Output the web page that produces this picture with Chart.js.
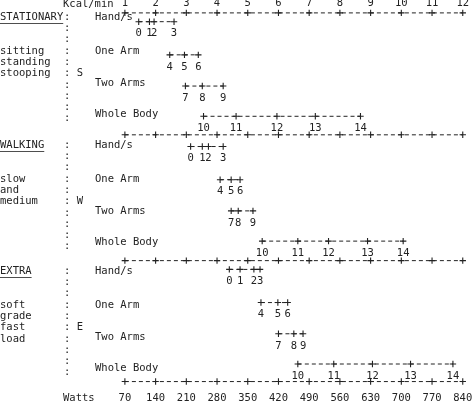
<!DOCTYPE html>
<html><head><meta charset="utf-8">
<script src="https://cdn.jsdelivr.net/npm/chart.js@4/dist/chart.umd.min.js"></script>
<style>html,body{margin:0;padding:0;background:#fff}canvas{display:block}</style>
</head><body><canvas id="c" width="474" height="413"></canvas>
<script>
// kcal/min scale ticks and watts labels (70 W per kcal/min)
const kcalTicks = [1,2,3,4,5,6,7,8,9,10,11,12];
const wattLabels = ["70","140","210","280","350","420","490","560","630","700","770","840"];
const sections = ["STATIONARY","WALKING","EXTRA"];
const subGroups = ["Hand/s","One Arm","Two Arms","Whole Body"];
const sectionLetters = ["S","W","E"];
const sectionDesc = [["sitting","standing","stooping"],["slow","and","medium"],["soft","grade","fast","load"]];
// element numbers per group
const handNums = ["0","1","2","3"], oneArmNums=["4","5","6"], twoArmNums=["7","8","9"], bodyNums=["10","11","12","13","14"];
// kcal/min values
const statHand = [1.45,1.8,1.95,2.6];
const statOne = [2.46,2.94,3.39];
const statTwo = [2.97,3.52,4.2];
const statBody = [3.56,4.62,5.95,7.2,8.67];
const walkHand = [3.14,3.52,3.72,4.2];
const walkOne = [4.1,4.46,4.75];
const walkTwo = [4.46,4.69,5.17];
const walkBody = [5.47,6.63,7.63,8.9,10.06];
const extHand = [4.4,4.75,5.2,5.4];
const extOne = [5.43,5.98,6.3];
const extTwo = [6.0,6.5,6.8];
const extBody = [6.63,7.8,9.06,10.3,11.68];

// row positions (layout)
const sectionTop = [17,145,271];
const groupOff = [0,34,66,97];
const axisRows = [8,133,262,386];

const groups = [
 [statHand,statOne,statTwo,statBody],
 [walkHand,walkOne,walkTwo,walkBody],
 [extHand,extOne,extTwo,extBody]];
const numSets=[handNums,oneArmNums,twoArmNums,bodyNums];

const datasets=[];
groups.forEach((g,si)=>g.forEach((vals,gi)=>{
  const y=sectionTop[si]+groupOff[gi];
  datasets.push({data:vals.map(v=>({x:v,y:y})),labelsText:numSets[gi],borderColor:'#222',borderWidth:1,borderDash:[4,3],
    pointStyle:'cross',pointRadius:3.2,pointBorderWidth:1.1,pointBorderColor:'#222',showLine:true,fill:false});
}));
axisRows.forEach(y=>{
  datasets.push({data:kcalTicks.map(v=>({x:v,y:y})),axisRow:true,borderColor:'#222',borderWidth:1,borderDash:[4,3],
    pointStyle:'cross',pointRadius:3.2,pointBorderWidth:1.1,pointBorderColor:'#222',showLine:true,fill:false});
});

const F='10.5px "DejaVu Sans Mono"';
const textPlugin={id:'txt',afterDatasetsDraw(chart){
  const ctx=chart.ctx, xs=chart.scales.x;
  ctx.save();ctx.fillStyle='#222';ctx.font=F;ctx.textBaseline='middle';
  chart.data.datasets.forEach((ds,i)=>{
    if(!ds.labelsText)return;
    const m=chart.getDatasetMeta(i);
    ctx.textAlign='center';
    m.data.forEach((p,j)=>ctx.fillText(ds.labelsText[j],p.x,p.y+12));
  });
  ctx.textAlign='left';
  ctx.fillText('Kcal/min',63,4);
  ctx.textAlign='center';
  kcalTicks.forEach(k=>ctx.fillText(String(k),xs.getPixelForValue(k),3));
  wattLabels.forEach((w,i)=>ctx.fillText(w,xs.getPixelForValue(kcalTicks[i]),398));
  ctx.textAlign='left';
  ctx.fillText('Watts',63,398);
  sections.forEach((s,si)=>{
    const t=sectionTop[si];
    ctx.fillText(s,0,t);
    const w=ctx.measureText(s).width;
    ctx.fillRect(0,t+6,w,0.8);
    for(let r=0;r<10;r++){
      if(r===5) ctx.fillText(': '+sectionLetters[si],64,t+r*11.3);
      else ctx.fillText(':',64,t+r*11.3);
    }
    subGroups.forEach((g,gi)=>ctx.fillText(g,95,t+groupOff[gi]));
    sectionDesc[si].forEach((d,di)=>ctx.fillText(d,0,t+34+di*11.3));
  });
  ctx.restore();
}};

new Chart(document.getElementById('c'),{
  type:'scatter',
  data:{datasets},
  options:{responsive:false,animation:false,maintainAspectRatio:false,
    layout:{padding:0},
    plugins:{legend:{display:false},tooltip:{enabled:false}},
    scales:{x:{type:'linear',display:false,min:-2.9,max:12.2},
            y:{type:'linear',display:false,min:0,max:413,reverse:true}}},
  plugins:[textPlugin]
});
</script></body></html>
